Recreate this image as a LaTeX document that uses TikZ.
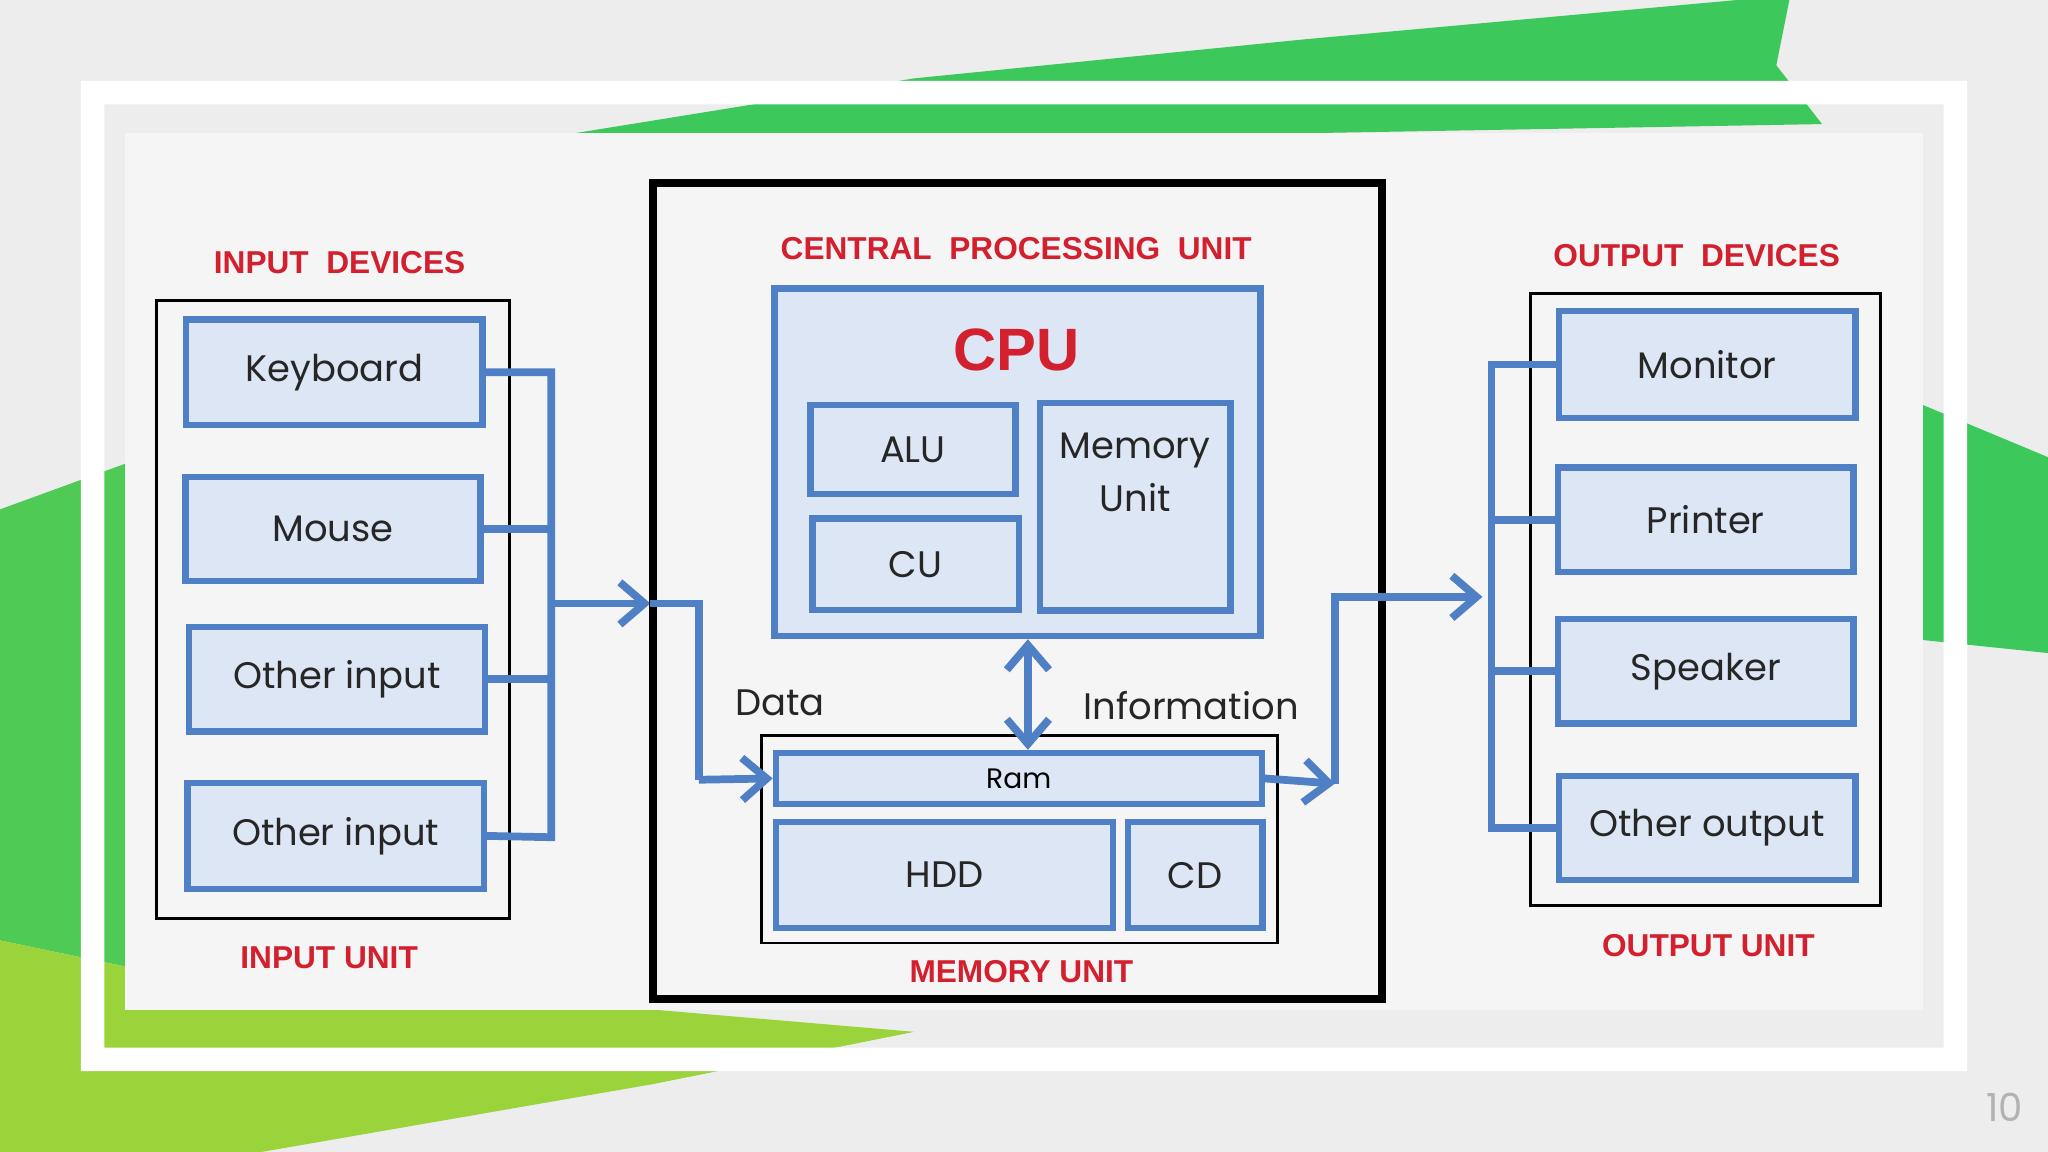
\documentclass[tikz,border=0pt]{standalone}
\usepackage{fontspec}
\setmainfont{Poppins}
\newfontfamily\arialf{Liberation Sans}
\usetikzlibrary{arrows.meta}
\definecolor{boxfill}{HTML}{DCE6F5}
\definecolor{boxline}{HTML}{4F7FC4}
\definecolor{titlered}{HTML}{D3202F}
\definecolor{bggray}{HTML}{EDEDED}
\definecolor{panel}{HTML}{F5F5F5}
\definecolor{green1}{HTML}{3CC85A}
\definecolor{green2}{HTML}{9AD43A}
\begin{document}
\begin{tikzpicture}[x=0.01306cm,y=-0.01306cm,
  blk/.style={draw=boxline,fill=boxfill,line width=1.8pt},
  txt/.style={font=\fontsize{10.5}{13}\selectfont,text=black!85},
  ttl/.style={font=\arialf\bfseries\fontsize{9}{11}\selectfont,text=titlered},
  bus/.style={draw=boxline,line width=2.2pt},
  arr/.style={bus,-{Straight Barb[length=7pt,width=12pt,line width=2.2pt]}},
  darr/.style={bus,{Straight Barb[length=7pt,width=12pt,line width=2.2pt]}-{Straight Barb[length=7pt,width=12pt,line width=2.2pt]}}]
\useasboundingbox (0,0) rectangle (1568,882);
\fill[bggray] (0,0) rectangle (1568,882);
% green brush strokes
\fill[green1] (440,102) -- (700,60) -- (1000,30) -- (1330,0) -- (1370,0) -- (1360,50) -- (1395,95) -- (1000,102) -- cycle;
\fill[green1!80!green2] (0,390) -- (96,355) -- (96,740) -- (0,720) -- cycle;
\fill[green2] (0,720) -- (96,740) -- (96,773) -- (500,773) -- (700,790) -- (500,830) -- (200,882) -- (0,882) -- cycle;
\fill[green1] (1472,310) -- (1568,350) -- (1568,500) -- (1472,490) -- cycle;
% white frame
\fill[white,even odd rule] (62,62) rectangle (1506,820) (80,80) rectangle (1488,802);
\fill[panel] (96,102) rectangle (1472,773);
\node[text=black!30,font=\fontsize{11}{13}\selectfont] (pg) at (1535,848) {10};

% input side
\draw[black,thick] (120,230) rectangle (390,703);
\node[ttl] (tin) at (260,201) {INPUT\ \ DEVICES};
\node[ttl] (uin) at (252,733) {INPUT UNIT};
\node[blk,txt,minimum width=227*0.01306cm,minimum height=81*0.01306cm] (kb) at (256,285) {Keyboard};
\node[blk,txt,minimum width=226*0.01306cm,minimum height=80*0.01306cm] (ms) at (255,405) {Mouse};
\node[blk,txt,minimum width=227*0.01306cm,minimum height=80*0.01306cm] (oi1) at (258,520) {Other input};
\node[blk,txt,minimum width=227*0.01306cm,minimum height=81*0.01306cm] (oi2) at (257,640) {Other input};
\coordinate (bt) at (422,285);
\coordinate (bb) at (422,641);
\coordinate (bm) at (422,462);
\draw[bus] (kb.east) -- (bt) -- (bb) -- (oi2.east);
\draw[bus] (ms.east) -- (ms.east -| bm);
\draw[bus] (oi1.east) -- (oi1.east -| bm);
\coordinate (ia) at (498,462);
\draw[arr] (bm) -- (ia);

% CPU frame
\draw[black,line width=2.4pt] (500,140) rectangle (1058,765);
\node[ttl] (tcpu) at (778,190) {CENTRAL\ \ PROCESSING\ \ UNIT};
\node[blk,minimum width=372*0.01306cm,minimum height=266*0.01306cm] (cpu) at (779,354) {};
\node[font=\arialf\bfseries\fontsize{17}{20}\selectfont,text=titlered] (cpul) at (778,268) {CPU};
\node[blk,txt,minimum width=157*0.01306cm,minimum height=68*0.01306cm] (alu) at (699,344) {ALU};
\node[blk,txt,minimum width=158*0.01306cm,minimum height=70*0.01306cm] (cu) at (701,432) {CU};
\node[blk,minimum width=146*0.01306cm,minimum height=159*0.01306cm] (mu) at (869,388) {};
\node[txt,align=center,anchor=north] (mut) at (869,322) {Memory\\[2pt]Unit};

% memory unit
\draw[black,thick] (583,563) rectangle (978,722);
\node[ttl] (tmem) at (782,744) {MEMORY UNIT};
\node[blk,font=\fontsize{8}{9}\selectfont,minimum width=372*0.01306cm,minimum height=39*0.01306cm] (ram) at (780,596) {Ram};
\node[blk,txt,minimum width=258*0.01306cm,minimum height=81*0.01306cm] (hdd) at (723,670) {HDD};
\node[blk,txt,minimum width=103*0.01306cm,minimum height=81*0.01306cm] (cd) at (915,670) {CD};
\draw[darr] (cpu.south -| 787,0) -- (ram.north -| 787,0);
\node[txt] (dl) at (597,538) {Data};
\node[txt] (il) at (912,540) {Information};
\coordinate (d1) at (535,462);
\coordinate (d2) at (535,597);
\draw[bus] (ia) -- (d1) -- (d2);
\draw[arr] (d2) -- (ram.west);
\coordinate (o1) at (1022,600);
\coordinate (o2) at (1022,457);
\coordinate (o3) at (1135,457);
\draw[arr] (ram.east) -- (o1);
\draw[arr] (o1) -- (o2) -- (o3);

% output side
\draw[black,thick] (1172,225) rectangle (1440,693);
\node[ttl] (tout) at (1299,196) {OUTPUT\ \ DEVICES};
\node[ttl] (uout) at (1308,724) {OUTPUT UNIT};
\node[blk,txt,minimum width=227*0.01306cm,minimum height=82*0.01306cm] (mon) at (1307,279) {Monitor};
\node[blk,txt,minimum width=226*0.01306cm,minimum height=80*0.01306cm] (prn) at (1306,398) {Printer};
\node[blk,txt,minimum width=226*0.01306cm,minimum height=80*0.01306cm] (spk) at (1306,514) {Speaker};
\node[blk,txt,minimum width=227*0.01306cm,minimum height=80*0.01306cm] (oo) at (1307,634) {Other output};
\coordinate (ot) at (1142,279);
\coordinate (ob) at (1142,634);
\draw[bus] (mon.west) -- (ot) -- (ob) -- (oo.west);
\draw[bus] (prn.west) -- (prn.west -| ot);
\draw[bus] (spk.west) -- (spk.west -| ot);
\end{tikzpicture}
\end{document}
